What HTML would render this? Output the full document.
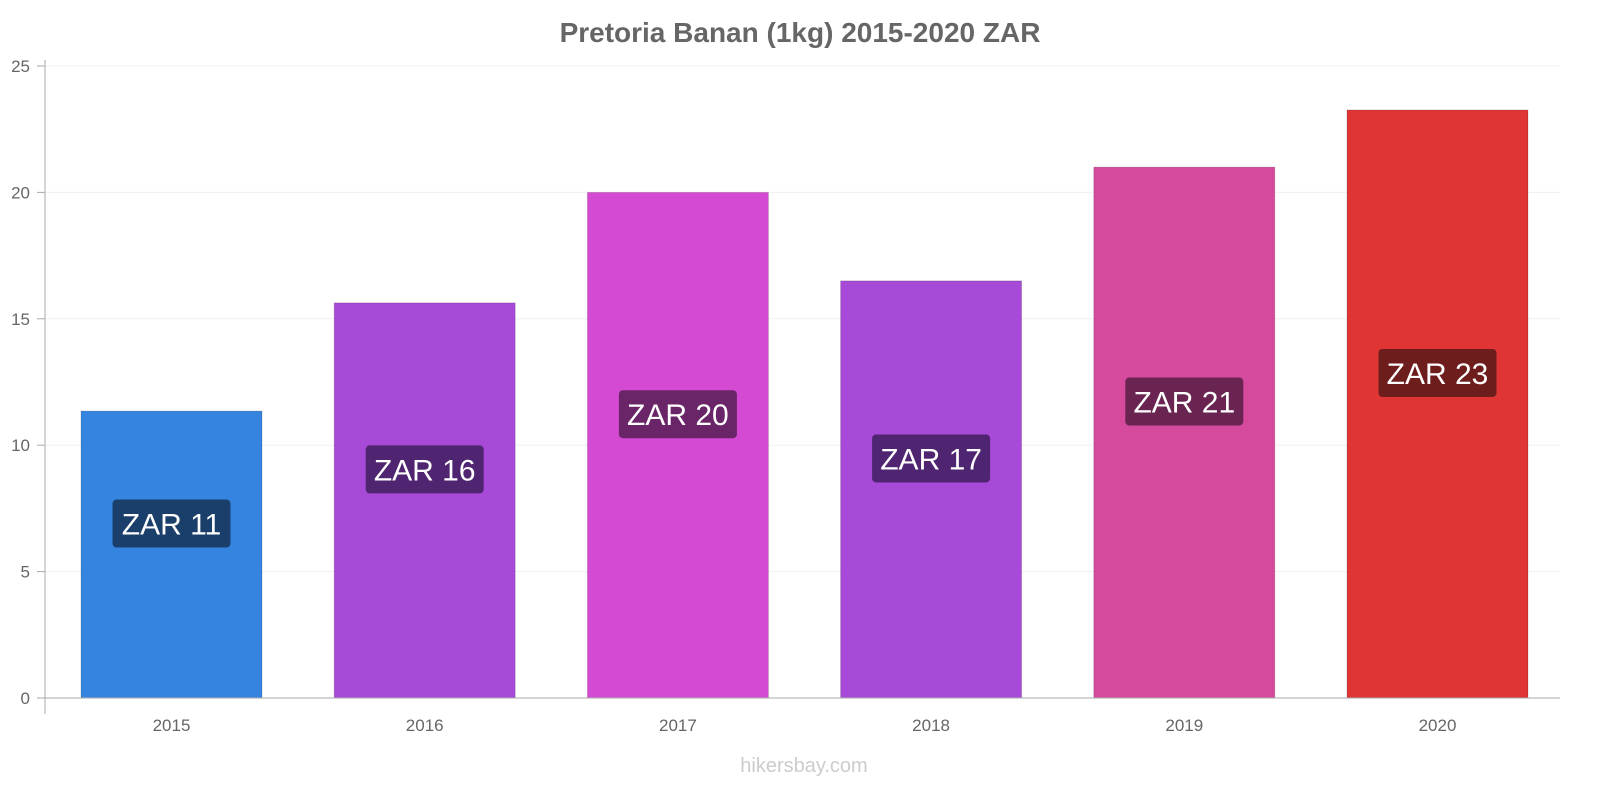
<!DOCTYPE html>
<html><head><meta charset="utf-8"><style>
html,body{margin:0;padding:0;background:#fff;}
body{width:1600px;height:800px;overflow:hidden;font-family:"Liberation Sans",sans-serif;}
</style></head><body>
<svg id="chart" width="1600" height="800" xmlns="http://www.w3.org/2000/svg" font-family="Liberation Sans, sans-serif">
<text x="800" y="42" text-anchor="middle" font-size="28" font-weight="bold" fill="#666">Pretoria Banan (1kg) 2015-2020 ZAR</text>
<g id="grid"></g>
<g id="yaxis"></g>
<g id="bars"></g>
<g id="xaxis"></g>
<text x="804" y="772" text-anchor="middle" font-size="20" fill="#ccc">hikersbay.com</text>
</svg>
<script>
const categories = ["2015","2016","2017","2018","2019","2020"];
const values = [11.35, 15.63, 20.0, 16.5, 21.0, 23.26];
const labels = ["ZAR 11","ZAR 16","ZAR 20","ZAR 17","ZAR 21","ZAR 23"];
const yTicks = [0,5,10,15,20,25];
const colors = ["#3584e0","#a84ad8","#d54ad3","#a84ad8","#d64a9e","#e03535"];
const labelColors = ["#1b3f6b","#4f2470","#6a2468","#4f2470","#6a2452","#6e1d1d"];

const NS="http://www.w3.org/2000/svg";
const x0=45, x1=1560, yBase=698, yTop=66, yMax=25;
const band=(x1-x0)/categories.length*0+253.2, barW=181, startX=81;
function y(v){return yBase-(v/yMax)*(yBase-yTop);}
function xc(i){return startX+barW/2+i*band;}
function mk(tag,attrs,parent){const e=document.createElementNS(NS,tag);for(const k in attrs)e.setAttribute(k,attrs[k]);parent.appendChild(e);return e;}

const grid=document.getElementById('grid'), ya=document.getElementById('yaxis'), bars=document.getElementById('bars'), xa=document.getElementById('xaxis');
yTicks.forEach(t=>{
  if(t>0){const g=mk('line',{x1:x0,x2:x1,y1:y(t),y2:y(t),stroke:'#f0f0f0','stroke-width':1},grid);
  
  }
  const tk=mk('line',{x1:x0-8,x2:x0,y1:y(t),y2:y(t),stroke:'#aaa'},ya);
  
  
  const tx=mk('text',{x:30,y:y(t)+6,'text-anchor':'end','font-size':17,fill:'#666'},ya);
  tx.textContent=t;
  
  
});
const yl=mk('line',{x1:x0,x2:x0,y1:yTop-6,y2:yBase+16,stroke:'#aaa'},ya);


const xl=mk('line',{x1:x0,x2:x1,y1:yBase,y2:yBase,stroke:'#aaa'},xa);



categories.forEach((c,i)=>{
  const top=y(values[i]);
  const r=mk('rect',{x:xc(i)-barW/2,y:top,width:barW,height:yBase-top,fill:colors[i],stroke:'rgba(0,0,0,0.15)'},bars);
  
  
  const cy=(top+yBase)/2-31;
  const w=118, h=48;
  const lb=mk('rect',{x:xc(i)-w/2,y:cy-h/2,width:w,height:h,rx:4,fill:labelColors[i]},bars);
  
  
  const lt=mk('text',{x:xc(i),y:cy+11,'text-anchor':'middle','font-size':30,fill:'#fff'},bars);
  lt.textContent=labels[i];
  
  
  const xt=mk('text',{x:xc(i),y:731,'text-anchor':'middle','font-size':17,fill:'#666'},xa);
  xt.textContent=c;
  
  
});
</script>
</body></html>
